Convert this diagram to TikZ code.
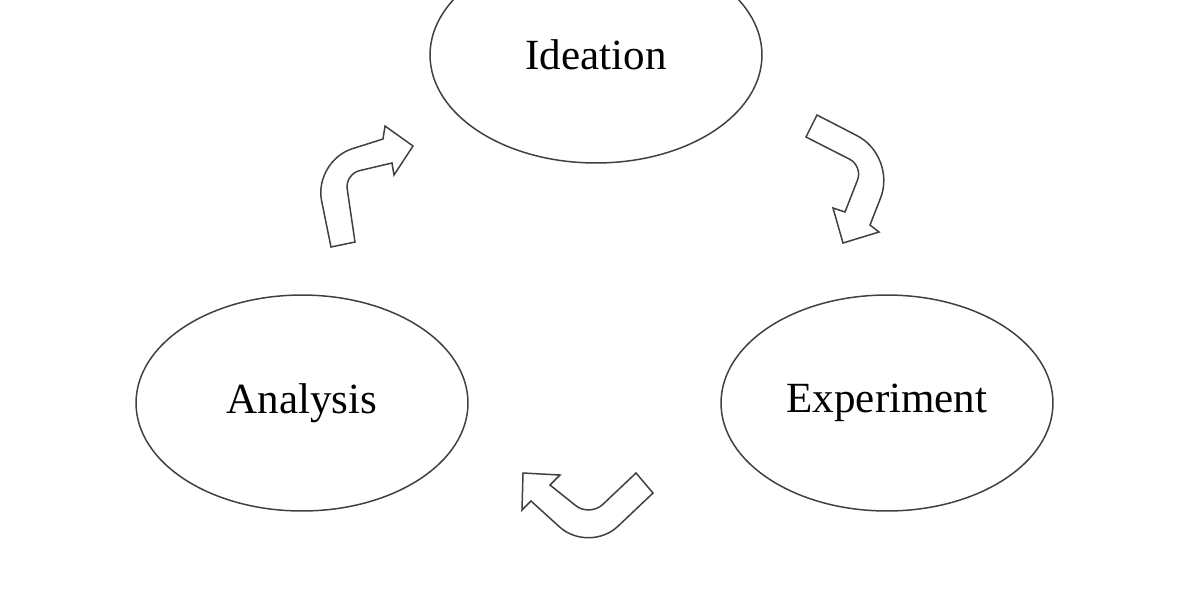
\documentclass[tikz,border=0pt]{standalone}
\usepackage{fontspec}
\setmainfont{Liberation Serif}
\usetikzlibrary{shapes.geometric}

\begin{document}
\begin{tikzpicture}[x=0.02cm, y=-0.02cm,
                    stage/.style={ellipse, draw=black!75, line width=0.85pt,
                                  minimum width=6.64cm, minimum height=4.32cm,
                                  inner sep=0pt, font=\fontsize{24.5}{28}\selectfont},
                    bent/.style={draw=black!75, fill=white, line width=0.85pt,
                                 line join=miter}]
\useasboundingbox (0,0) rectangle (1200,600);

\node[stage] (ideation)   at (596,55)  {Ideation};
\node[stage] (analysis)   at (302,403) {Analysis};
\node[stage] (experiment) at (887,403) {Experiment};

% analysis -> ideation
\draw[bent] (331,247) -- (321.5,200.3) .. controls (317.4,178.7) and (331.2,155.5) .. (352.1,148.8)
    -- (383,139) -- (385,126) -- (413,146) -- (394,175) -- (392,163)
    -- (359.6,170.6) .. controls (351.6,172.5) and (346,180.7) .. (347.2,188.9)
    -- (355,242) -- cycle;
% ideation -> experiment
\draw[bent] (817,115) -- (856.9,135.6) .. controls (879,146.8) and (889.6,174.9) .. (880.6,197.9)
    -- (870,225) -- (879,232) -- (843,243) -- (833,208) -- (845,212)
    -- (857.5,180) .. controls (860.5,172.3) and (857,163) .. (849.6,159.2)
    -- (806,137) -- cycle;
% experiment -> analysis
\draw[bent] (653,493) -- (618,526.2) .. controls (602.1,541.3) and (575.7,541.6) .. (559.4,526.8)
    -- (531,501) -- (522,510) -- (523,473) -- (560,475) -- (550,485)
    -- (575.7,505.6) .. controls (583.5,511.8) and (595.6,511.2) .. (602.8,504.4)
    -- (636,473) -- cycle;
\end{tikzpicture}
\end{document}
